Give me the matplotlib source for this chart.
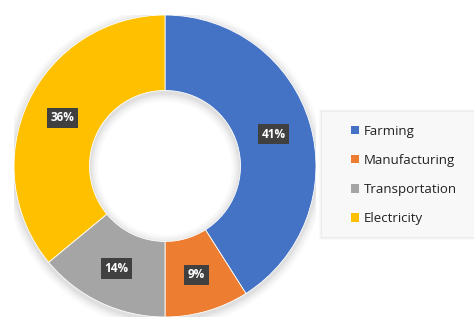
import matplotlib.pyplot as plt
from matplotlib.patches import Patch, Rectangle, Wedge

plt.rcParams["font.family"] = ["Open Sans", "DejaVu Sans"]

sectors = ["Farming", "Manufacturing", "Transportation", "Electricity"]
shares = [41, 9, 14, 36]
colors = ["#4472c4", "#ed7d31", "#a5a5a5", "#ffc000"]

fig = plt.figure(figsize=(4.74, 3.32), dpi=100)

# legend background panel, runs off the right edge
for i, a in enumerate([0.03, 0.025, 0.02]):
    fig.patches.append(Rectangle(((321 - i) / 474, (332 - 238 - i) / 332),
                                 (160 + 2 * i) / 474, (127 + 2 * i) / 332,
                                 transform=fig.transFigure, facecolor="black",
                                 alpha=a, linewidth=0, zorder=0))
fig.patches.append(Rectangle((322 / 474, (332 - 237) / 332), 160 / 474, 125 / 332,
                             transform=fig.transFigure, facecolor="#f8f8f8",
                             edgecolor="none", zorder=0.5))

# donut axes: centre around (165, 166) px, radius ~151 px
cx, cy, r = 165, 166, 151
ax = fig.add_axes([(cx - r) / 474, (332 - cy - r) / 332, 2 * r / 474, 2 * r / 332])

# soft shadow around the ring
for i, a in enumerate([0.035, 0.03, 0.025, 0.02, 0.015]):
    ax.add_patch(Wedge((0.0, -0.015), 1.0 + 0.012 * (i + 1), 0, 360,
                       width=0.5 + 0.024 * (i + 1), facecolor="black",
                       alpha=a, linewidth=0))

wedges, texts, autotexts = ax.pie(
    shares,
    colors=colors,
    startangle=90,
    counterclock=False,
    wedgeprops=dict(width=0.5, edgecolor="white", linewidth=0.6),
    autopct=lambda p: f"{p:.0f}%",
    pctdistance=0.75,
    textprops=dict(color="white", fontsize=8.5, fontweight="bold"),
)
for t in autotexts:
    t.set_bbox(dict(boxstyle="square,pad=0.3", facecolor="#404040",
                    edgecolor="none"))
ax.set_xlim(-1, 1)
ax.set_ylim(-1, 1)
ax.set_aspect("equal")
ax.axis("off")

handles = [Patch(facecolor=c, edgecolor="none") for c in colors]
leg = fig.legend(
    handles, sectors,
    loc="center left",
    bbox_to_anchor=(351 / 474, (332 - 175) / 332),
    frameon=False,
    fontsize=9.5,
    handlelength=0.6,
    handleheight=0.6,
    handletextpad=0.4,
    labelspacing=1.22,
    borderpad=0,
    borderaxespad=0,
)
for txt in leg.get_texts():
    txt.set_color("#222222")

fig.savefig("out.png", dpi=100)
